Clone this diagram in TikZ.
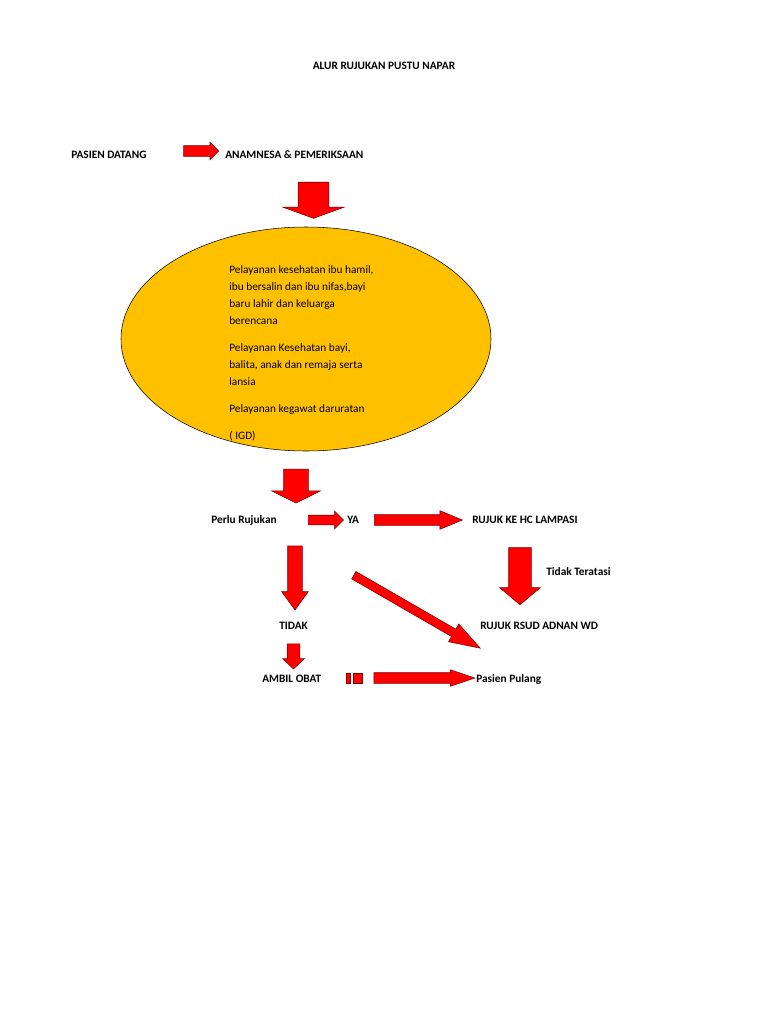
\documentclass[tikz,border=0pt]{standalone}
\usepackage{fontspec}
\setmainfont{Carlito}
\usetikzlibrary{shapes.arrows,shapes.geometric}
\begin{document}
\begin{tikzpicture}[x=0.75pt,y=-0.75pt,
  barr/.style n args={4}{single arrow, draw=red!50!black, line width=0.4pt, fill=red,
     minimum height=#1*0.75pt, inner sep=#2*0.375pt, single arrow head extend=#3*0.375pt,
     single arrow tip angle=#4, anchor=center, outer sep=0pt},
  lbl/.style={font=\bfseries\fontsize{8.5}{10}\selectfont, anchor=west, inner sep=0pt},
  body/.style={font=\fontsize{8.5}{12.75}\selectfont, anchor=north west, inner sep=0pt, align=left}]
\useasboundingbox (0,0) rectangle (768,1024);
\node[lbl,anchor=center] (title) at (384,66) {ALUR RUJUKAN PUSTU NAPAR};
\node[lbl] (pd) at (71,155) {PASIEN DATANG};
\node[lbl] (an) at (225,155) {ANAMNESA \& PEMERIKSAAN};
\node[barr={35}{10}{7}{90}] (a1) at (198.5,151) {};
\node[barr={33}{30}{31}{140},rotate=-90] (a2) at (313.5,197.5) {};
\node[ellipse, draw=black, fill=orange!60!yellow, fill={rgb,255:red,255;green,192;blue,0}, minimum width=370*0.75pt, minimum height=224*0.75pt] (ell) at (306,339) {};
\node[body] (t1) at (229,265) {Pelayanan kesehatan ibu hamil,\\ibu bersalin dan ibu nifas,bayi\\baru lahir dan keluarga\\berencana};
\node[body] (t2) at (229,343) {Pelayanan Kesehatan bayi,\\balita, anak dan remaja serta\\lansia};
\node[body] (t3) at (229,404) {Pelayanan kegawat daruratan};
\node[body] (t4) at (229,431) {( IGD)};
\node[barr={34}{24}{24}{127},rotate=-90] (a4) at (296,483) {};
\node[lbl] (pr) at (211,520) {Perlu Rujukan};
\node[barr={35}{9}{8}{90}] (a5) at (323.5,520) {};
\node[lbl] (ya) at (347,520) {YA};
\node[barr={88}{10}{8}{45}] (a6) at (412,520) {};
\node[lbl] (hc) at (472,520) {RUJUK KE HC LAMPASI};
\node[barr={64}{14}{12}{72},rotate=-90] (a7) at (295,573) {};
\node[barr={57}{22}{18}{100},rotate=-90] (a8) at (520,571.5) {};
\node[lbl] (tt) at (546,572) {Tidak Teratasi};
\node[barr={146}{8}{12}{37},rotate=-30] (a9) at (411.5,608.5) {};
\node[lbl] (td) at (279,626) {TIDAK};
\node[lbl] (rs) at (480,626) {RUJUK RSUD ADNAN WD};
\node[barr={25}{12}{9}{93},rotate=-90] (a10) at (293.5,653.5) {};
\node[lbl] (ao) at (262,679) {AMBIL OBAT};
\node[draw=red!50!black, fill=red, minimum width=3pt, minimum height=7.5pt, inner sep=0pt] (s1) at (348,678) {};
\node[draw=red!50!black, fill=red, minimum width=6.75pt, minimum height=7.5pt, inner sep=0pt] (s2) at (357.5,678) {};
\node[barr={101}{10}{6}{37}] (a11) at (416.5,678) {};
\node[lbl] (pp) at (476,679) {Pasien Pulang};
\end{tikzpicture}
\end{document}
